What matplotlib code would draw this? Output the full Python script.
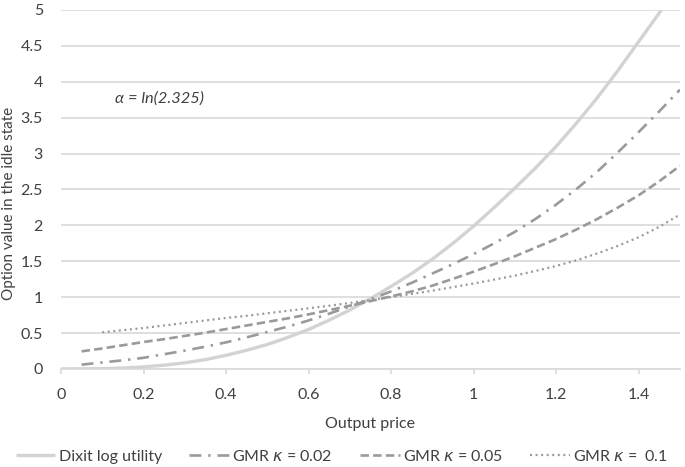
import matplotlib
matplotlib.use("Agg")
import matplotlib.pyplot as plt

# Dixit log utility curve
dixit_x = [0.0, 0.05, 0.1, 0.15, 0.2, 0.25, 0.3, 0.35, 0.4, 0.45, 0.5,
           0.55, 0.6, 0.65, 0.7, 0.75, 0.8, 0.85, 0.9, 0.95, 1.0, 1.05,
           1.1, 1.15, 1.2, 1.25, 1.3, 1.35, 1.4, 1.455]
dixit_y = [0.0, 0.001, 0.004, 0.012, 0.028, 0.052, 0.085, 0.13, 0.19,
           0.26, 0.34, 0.44, 0.55, 0.68, 0.82, 0.98, 1.15, 1.33, 1.53,
           1.75, 1.99, 2.25, 2.52, 2.8, 3.1, 3.43, 3.78, 4.16, 4.56, 5.0]

# GMR curves, kappa = 0.02 and 0.05
gmr_x = [0.05, 0.1, 0.15, 0.2, 0.25, 0.3, 0.35, 0.4, 0.45, 0.5, 0.55,
         0.6, 0.65, 0.7, 0.75, 0.8, 0.85, 0.9, 0.95, 1.0, 1.05, 1.1,
         1.15, 1.2, 1.25, 1.3, 1.35, 1.4, 1.45, 1.5]
gmr_002 = [0.06, 0.09, 0.12, 0.155, 0.205, 0.255, 0.31, 0.37, 0.44,
           0.515, 0.59, 0.675, 0.77, 0.87, 0.97, 1.08, 1.2, 1.33, 1.46,
           1.6, 1.75, 1.91, 2.09, 2.29, 2.51, 2.75, 3.02, 3.3, 3.59, 3.89]
gmr_005 = [0.245, 0.285, 0.33, 0.375, 0.415, 0.46, 0.505, 0.555, 0.605,
           0.655, 0.705, 0.76, 0.82, 0.88, 0.945, 1.01, 1.08, 1.16, 1.255,
           1.355, 1.46, 1.57, 1.69, 1.81, 1.945, 2.09, 2.25, 2.42, 2.615,
           2.83]

# GMR curve, kappa = 0.1 (starts later)
gmr01_x = [0.1, 0.15, 0.2, 0.25, 0.3, 0.35, 0.4, 0.45, 0.5, 0.55, 0.6,
           0.65, 0.7, 0.75, 0.8, 0.85, 0.9, 0.95, 1.0, 1.05, 1.1, 1.15,
           1.2, 1.25, 1.3, 1.35, 1.4, 1.45, 1.5]
gmr_01 = [0.51, 0.54, 0.57, 0.605, 0.64, 0.675, 0.71, 0.74, 0.775, 0.81,
          0.845, 0.88, 0.92, 0.96, 1.0, 1.045, 1.09, 1.14, 1.19, 1.245,
          1.3, 1.365, 1.435, 1.515, 1.61, 1.715, 1.835, 1.98, 2.15]

x_ticks = [0, 0.2, 0.4, 0.6, 0.8, 1.0, 1.2, 1.4]
x_tick_labels = ["0", "0.2", "0.4", "0.6", "0.8", "1", "1.2", "1.4"]
y_ticks = [0, 0.5, 1, 1.5, 2, 2.5, 3, 3.5, 4, 4.5, 5]
y_tick_labels = ["0", "0.5", "1", "1.5", "2", "2.5", "3", "3.5", "4", "4.5", "5"]

plt.rcParams['font.family'] = ['Lato', 'DejaVu Sans']
plt.rcParams['font.size'] = 11.5

TEXT = '#404040'
GRID = '#d9d9d9'
LIGHT = '#d3d3d3'
DARK = '#9a9a9a'


def plot_chart(filename="out.png"):
    fig = plt.figure(figsize=(6.85, 4.67), dpi=100)
    ax = fig.add_axes([0.089, 0.21, 0.9037, 0.7686])

    ax.plot(dixit_x, dixit_y, color=LIGHT, lw=2.4, solid_capstyle='butt',
            label="Dixit log utility")
    ax.plot(gmr_x, gmr_002, color=DARK, lw=1.9, dashes=(4.5, 2.6, 0.9, 2.6),
            dash_capstyle='butt', label=r"GMR $\kappa$ = 0.02")
    ax.plot(gmr_x, gmr_005, color=DARK, lw=1.9, dashes=(3.2, 1.6),
            dash_capstyle='butt', label=r"GMR $\kappa$ = 0.05")
    ax.plot(gmr01_x, gmr_01, color=DARK, lw=1.6, dashes=(0.9, 1.6),
            dash_capstyle='butt', label=r"GMR $\kappa$ =  0.1")

    ax.set_xlim(0, 1.5)
    ax.set_ylim(0, 5)
    ax.set_xticks(x_ticks)
    ax.set_xticklabels(x_tick_labels)
    ax.set_yticks(y_ticks)
    ax.set_yticklabels(y_tick_labels)

    ax.grid(axis='y', color=GRID, lw=1.2)
    ax.set_axisbelow(True)
    for side in ['top', 'right', 'left']:
        ax.spines[side].set_visible(False)
    ax.spines['bottom'].set_color(GRID)
    ax.spines['bottom'].set_linewidth(1.2)
    ax.tick_params(axis='y', length=0, pad=13, colors=TEXT)
    ax.tick_params(axis='x', length=3.5, width=1.2, pad=10, colors=TEXT)
    ax.tick_params(axis='x', color=GRID)

    ax.set_xlabel("Output price", color=TEXT, labelpad=11)
    ax.set_ylabel("Option value in the idle state", color=TEXT, fontsize=11)
    ax.yaxis.set_label_coords(-0.073, 0.46)

    ax.text(0.13, 3.77, "α = ln(2.325)", style='italic', color=TEXT,
            fontsize=11.8, va='center')

    fig.legend(loc='lower center', bbox_to_anchor=(0.499, -0.024), ncol=4,
               frameon=False, handlelength=2.5, columnspacing=1.7,
               handletextpad=0.2, labelcolor=TEXT)

    fig.savefig(filename, dpi=100)


def main():
    plot_chart()


if __name__ == "__main__":
    main()
